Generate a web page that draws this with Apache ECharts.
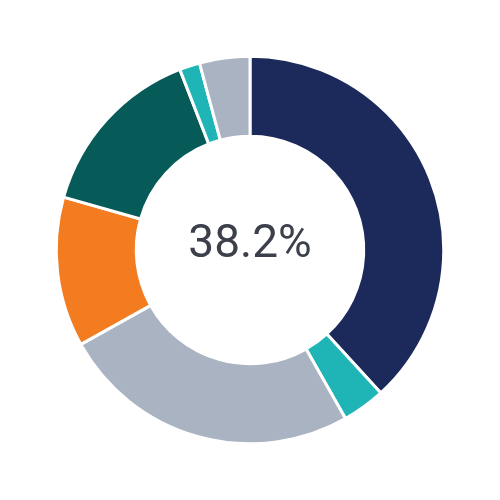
<!DOCTYPE html>
<html><head><meta charset="utf-8">
<script src="https://cdn.jsdelivr.net/npm/echarts@6/dist/echarts.min.js"></script>
<style>html,body{margin:0;padding:0;background:#fff}#c{width:500px;height:500px}</style>
</head><body><div id="c"></div>
<script>
const categories = ['A','B','C','D','E','F','G'];
const values = [38.2, 3.6, 25.1, 12.5, 14.7, 1.7, 4.2];
const colors = ['#1b2a5a','#1fb5b7','#a9b3c2','#f47c20','#065a58','#1fb5b7','#a9b3c2'];
const centerLabel = '38.2%';
const chart = echarts.init(document.getElementById('c'));
chart.setOption({
  animation:false,
  graphic:[{type:'text',left:'center',top:222,style:{text:centerLabel,fontSize:46,fontFamily:'Roboto, sans-serif',fill:'#3b404b'}}],
  series:[{
    type:'pie',
    radius:['45.5%','77.5%'],
    center:['50%','50%'],
    startAngle:90,
    clockwise:true,
    label:{show:false},
    labelLine:{show:false},
    itemStyle:{borderColor:'#fff',borderWidth:3},
    data:categories.map((c,i)=>({name:c,value:values[i],itemStyle:{color:colors[i]}}))
  }]
});
</script></body></html>
